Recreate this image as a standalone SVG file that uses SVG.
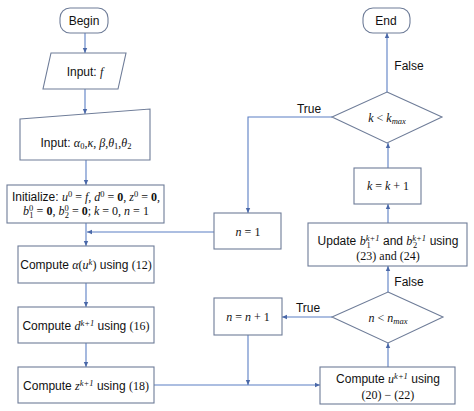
<svg xmlns="http://www.w3.org/2000/svg" width="474" height="411" viewBox="0 0 474 411">
<style>
.box{fill:#fff;stroke:#6e7c98;stroke-width:1.1}
.ln{fill:none;stroke:#5b7fc4;stroke-width:1.1}
.t{font-family:"Liberation Sans",Arial,sans-serif;font-size:12px;fill:#111}
.m{font-family:"Liberation Serif","Times New Roman",serif;font-style:italic}
.r{font-family:"Liberation Serif","Times New Roman",serif;font-style:normal}
.b{font-family:"Liberation Serif","Times New Roman",serif;font-weight:bold;font-style:normal}
.s{font-size:8.5px}
</style>
<defs>
<marker id="ah" markerWidth="6" markerHeight="6" refX="5" refY="3" orient="auto" markerUnits="userSpaceOnUse">
<path d="M0,0.8 L5,3 L0,5.2 Z" fill="#4a68a8"/>
</marker>
</defs>
<g id="connectors">
<path class="ln" d="M85,33 V53" marker-end="url(#ah)"/>
<path class="ln" d="M85,89 V114" marker-end="url(#ah)"/>
<path class="ln" d="M86,160 V185" marker-end="url(#ah)"/>
<path class="ln" d="M86,223 V246" marker-end="url(#ah)"/>
<path class="ln" d="M214,232 H87" marker-end="url(#ah)"/>
<path class="ln" d="M86,283 V307" marker-end="url(#ah)"/>
<path class="ln" d="M86,343 V367" marker-end="url(#ah)"/>
<path class="ln" d="M154,385 H320" marker-end="url(#ah)"/>
<path class="ln" d="M248,335 V385" marker-end="url(#ah)"/>
<path class="ln" d="M388,367 V343" marker-end="url(#ah)"/>
<path class="ln" d="M332,317 H282" marker-end="url(#ah)"/>
<path class="ln" d="M388,292 V266" marker-end="url(#ah)"/>
<path class="ln" d="M388,223 V204" marker-end="url(#ah)"/>
<path class="ln" d="M388,168 V143" marker-end="url(#ah)"/>
<path class="ln" d="M387,92 V33" marker-end="url(#ah)"/>
<path class="ln" d="M332,117 H248 V213" marker-end="url(#ah)"/>
<text class="t" x="409" y="70" text-anchor="middle">False</text>
<text class="t" x="309" y="113" text-anchor="middle">True</text>
<text class="t" x="308" y="312" text-anchor="middle">True</text>
<text class="t" x="409" y="286" text-anchor="middle">False</text>
</g>
<g id="begin">
<rect class="box" x="60" y="8" width="48" height="25" rx="10"/>
<text class="t" x="84" y="25" text-anchor="middle">Begin</text>
</g>
<g id="input-f">
<polygon class="box" points="51,53 126,53 118,89 43,89"/>
<text class="t" x="85" y="76" text-anchor="middle">Input: <tspan class="m">f</tspan></text>
</g>
<g id="input-params">
<polygon class="box" points="20,119 150,109 150,160 20,160"/>
<text class="t" x="86" y="147" text-anchor="middle">Input: <tspan class="m">α</tspan><tspan class="r s" dy="2">0</tspan><tspan class="r" dy="-2">,</tspan><tspan class="m">κ</tspan><tspan class="r">,  </tspan><tspan class="m">β</tspan><tspan class="r">,</tspan><tspan class="m">θ</tspan><tspan class="r s" dy="2">1</tspan><tspan class="r" dy="-2">,</tspan><tspan class="m">θ</tspan><tspan class="r s" dy="2">2</tspan></text>
</g>
<g id="initialize">
<rect class="box" x="7" y="185" width="157" height="38"/>
<text class="t" x="86" y="201" text-anchor="middle">Initialize: <tspan class="m">u</tspan><tspan class="r s" dy="-4">0</tspan><tspan class="r" dy="4"> = </tspan><tspan class="m">f</tspan><tspan class="r">, </tspan><tspan class="m">d</tspan><tspan class="r s" dy="-4">0</tspan><tspan class="r" dy="4"> = </tspan><tspan class="b">0</tspan><tspan class="r">, </tspan><tspan class="m">z</tspan><tspan class="r s" dy="-4">0</tspan><tspan class="r" dy="4"> = </tspan><tspan class="b">0</tspan><tspan class="r">,</tspan></text>
<text class="t" x="86" y="215" text-anchor="middle"><tspan class="m">b</tspan><tspan class="r s" dy="-4">0</tspan><tspan class="r s" dx="-4" dy="7">1</tspan><tspan class="r" dy="-3"> = </tspan><tspan class="b">0</tspan><tspan class="r">, </tspan><tspan class="m">b</tspan><tspan class="r s" dy="-4">0</tspan><tspan class="r s" dx="-4" dy="7">2</tspan><tspan class="r" dy="-3"> = </tspan><tspan class="b">0</tspan><tspan class="r">; </tspan><tspan class="m">k</tspan><tspan class="r"> = 0, </tspan><tspan class="m">n</tspan><tspan class="r"> = 1</tspan></text>
</g>
<g id="compute-alpha">
<rect class="box" x="18" y="246" width="136" height="37"/>
<text class="t" x="86" y="269" text-anchor="middle">Compute <tspan class="m">α</tspan><tspan class="r">(</tspan><tspan class="m">u</tspan><tspan class="m s" dy="-4">k</tspan><tspan class="r" dy="4">)</tspan> using <tspan class="r">(12)</tspan></text>
</g>
<g id="compute-d">
<rect class="box" x="18" y="307" width="136" height="36"/>
<text class="t" x="86" y="330" text-anchor="middle">Compute <tspan class="m">d</tspan><tspan class="m s" dy="-4">k+1</tspan><tspan dy="4"> using </tspan><tspan class="r">(16)</tspan></text>
</g>
<g id="compute-z">
<rect class="box" x="18" y="367" width="136" height="36"/>
<text class="t" x="86" y="390" text-anchor="middle">Compute <tspan class="m">z</tspan><tspan class="m s" dy="-4">k+1</tspan><tspan dy="4"> using </tspan><tspan class="r">(18)</tspan></text>
</g>
<g id="n-eq-1">
<rect class="box" x="214" y="213" width="67" height="36"/>
<text class="t" x="248" y="236" text-anchor="middle"><tspan class="m">n</tspan><tspan class="r"> = 1</tspan></text>
</g>
<g id="n-inc">
<rect class="box" x="214" y="298" width="68" height="37"/>
<text class="t" x="248" y="321" text-anchor="middle"><tspan class="m">n</tspan><tspan class="r"> = </tspan><tspan class="m">n</tspan><tspan class="r"> + 1</tspan></text>
</g>
<g id="compute-u">
<rect class="box" x="320" y="367" width="135" height="37"/>
<text class="t" x="388" y="383" text-anchor="middle">Compute <tspan class="m">u</tspan><tspan class="m s" dy="-4">k+1</tspan><tspan dy="4"> using</tspan></text>
<text class="t r" x="388" y="399" text-anchor="middle">(20) − (22)</text>
</g>
<g id="n-check">
<polygon class="box" points="388,292 443,317 388,343 332,317"/>
<text class="t" x="388" y="322" text-anchor="middle"><tspan class="m">n</tspan><tspan class="r"> &lt; </tspan><tspan class="m">n</tspan><tspan class="m s" dy="2">max</tspan></text>
</g>
<g id="update-b">
<rect class="box" x="308" y="223" width="159" height="43"/>
<text class="t" x="388" y="245" text-anchor="middle">Update <tspan class="m">b</tspan><tspan class="m s" dy="-4">k+1</tspan><tspan class="r s" dx="-13" dy="7">1</tspan><tspan dx="9" dy="-3"> and </tspan><tspan class="m">b</tspan><tspan class="m s" dy="-4">k+1</tspan><tspan class="r s" dx="-13" dy="7">2</tspan><tspan dx="9" dy="-3"> using</tspan></text>
<text class="t r" x="388" y="260" text-anchor="middle">(23) and (24)</text>
</g>
<g id="k-inc">
<rect class="box" x="354" y="168" width="67" height="36"/>
<text class="t" x="388" y="190" text-anchor="middle"><tspan class="m">k</tspan><tspan class="r"> = </tspan><tspan class="m">k</tspan><tspan class="r"> + 1</tspan></text>
</g>
<g id="k-check">
<polygon class="box" points="387,92 442,117 387,143 332,117"/>
<text class="t" x="387" y="122" text-anchor="middle"><tspan class="m">k</tspan><tspan class="r"> &lt; </tspan><tspan class="m">k</tspan><tspan class="m s" dy="2">max</tspan></text>
</g>
<g id="end">
<rect class="box" x="363" y="8" width="47" height="25" rx="10"/>
<text class="t" x="386" y="25" text-anchor="middle">End</text>
</g>
</svg>
